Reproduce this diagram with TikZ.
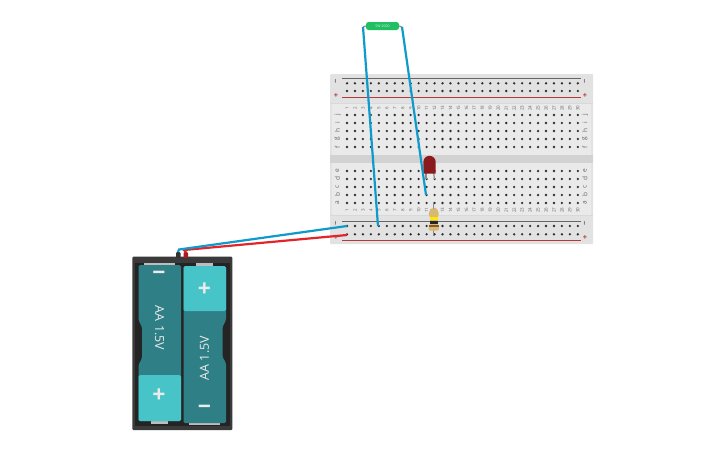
\documentclass[tikz,border=0pt]{standalone}
\usepackage{fontspec}
\setmainfont{Open Sans}
\definecolor{boardgray}{HTML}{E2E2E2}
\definecolor{boardlight}{HTML}{EAEAEA}
\definecolor{channelgray}{HTML}{D2D2D2}
\definecolor{holegray}{HTML}{2E2E2E}
\definecolor{railred}{HTML}{B5383C}
\definecolor{wireblue}{HTML}{0E9BCB}
\definecolor{wirered}{HTML}{E0262A}
\definecolor{cellteal}{HTML}{2F7F86}
\definecolor{celllight}{HTML}{47C4C8}
\definecolor{holderdark}{HTML}{3A3A3A}
\definecolor{holderinner}{HTML}{242424}
\definecolor{tabsilver}{HTML}{BDBDBD}
\definecolor{ledred}{HTML}{8A1A1E}
\definecolor{bodytan}{HTML}{D9B872}
\definecolor{switchgreen}{HTML}{1FBF62}
\tikzset{
    hole/.style={circle, fill=holegray, inner sep=0pt, minimum size=2.6pt},
    boardtext/.style={text=black!60, inner sep=0pt, rotate=90, font=\fontsize{4.5}{5}\selectfont},
    rowtext/.style={boardtext, font=\fontsize{6.5}{7}\selectfont},
    signtext/.style={boardtext, font=\bfseries\fontsize{7.5}{8}\selectfont},
    celltext/.style={text=white!92!black, inner sep=0pt, font=\fontsize{12.5}{13}\selectfont},
    cellsign/.style={text=white!92!black, inner sep=0pt, font=\bfseries\fontsize{23}{23}\selectfont},
    jumper/.style={wireblue, line width=2.2pt},
    redwire/.style={wirered, line width=2.2pt},
    leg/.style={black!45, line width=1.2pt},
}
\begin{document}
\begin{tikzpicture}[x=1pt, y=-1pt]
    \useasboundingbox[fill=white] (0, 0) rectangle (725, 453);
    % breadboard
    \fill[boardgray, rounded corners=1pt] (330, 74) rectangle (593, 244);
    \fill[boardlight] (332, 104) rectangle (591, 155);
    \fill[boardlight] (332, 163) rectangle (591, 215);
    \fill[channelgray] (330, 155) rectangle (593, 163);
    \draw[black!15, line width=0.5pt] (330, 103.5) -- (593, 103.5);
    \draw[black!15, line width=0.5pt] (330, 215.5) -- (593, 215.5);
    \draw[black!60, line width=1pt] (342, 78) -- (581, 78);
    \draw[railred, line width=1pt] (342, 97) -- (581, 97);
    \draw[black!60, line width=1pt] (342, 221) -- (581, 221);
    \draw[railred, line width=1pt] (342, 240.5) -- (581, 240.5);
    \foreach \row in {83.3, 91, 115, 123, 131, 139, 147, 171, 179, 187, 195, 203, 226, 234.3} {
        \foreach \col in {0, ..., 29} {
            \node[hole] at (347 + 7.96*\col, \row) {};
        }
    }
    \foreach \col [evaluate=\col as \colx using 347 + 7.96*(\col - 1)] in {1, ..., 30} {
        \node[boardtext] at (\colx, 108) {\col};
        \node[boardtext] at (\colx, 210) {\col};
    }
    \foreach \rowname/\row in {j/115, i/123, h/131, g/139, f/147, e/171, d/179, c/187, b/195, a/203} {
        \node[rowtext] at (337.5, \row) {\rowname};
        \node[rowtext] at (585, \row) {\rowname};
    }
    \foreach \signx in {336.5, 585.5} {
        \node[signtext] at (\signx, 81) {−};
        \node[signtext, text=railred] at (\signx, 95.5) {+};
        \node[signtext] at (\signx, 223) {−};
        \node[signtext, text=railred] at (\signx, 237) {+};
    }
    % battery holder
    \fill[holderdark, rounded corners=1pt] (132.3, 256.7) rectangle (232.3, 430);
    \fill[holderinner] (135, 263) rectangle (229.5, 426);
    \fill[tabsilver] (144, 263) rectangle (175, 266);
    \fill[tabsilver] (196, 263) rectangle (213, 267);
    \fill[tabsilver] (151, 420) rectangle (168, 424);
    \fill[tabsilver] (189, 422) rectangle (220, 425);
    \fill[cellteal, rounded corners=1.5pt] (138.5, 265) -- (181, 265) -- (181, 421) -- (138.5, 421)
        -- (138.5, 365) -- (142, 358) -- (142, 327) -- (138.5, 320) -- cycle;
    \fill[celllight, rounded corners=1.5pt] (138.5, 375) -- (181, 375) -- (181, 421) -- (138.5, 421) -- cycle;
    \fill[cellteal, rounded corners=1.5pt] (183.5, 266) -- (226, 266) -- (226, 320) -- (222.5, 327)
        -- (222.5, 357) -- (226, 363) -- (226, 423) -- (183.5, 423) -- cycle;
    \fill[celllight, rounded corners=1.5pt] (183.5, 266) -- (226, 266) -- (226, 311) -- (183.5, 311) -- cycle;
    \node[celltext, rotate=-90] (leftlabel) at (159.5, 328) {AA 1.5V};
    \node[celltext, rotate=90] (rightlabel) at (204.5, 358) {AA 1.5V};
    \node[cellsign] (leftminus) at (159, 276) {−};
    \node[cellsign] (leftplus) at (159, 396) {+};
    \node[cellsign] (rightplus) at (204.5, 290) {+};
    \node[cellsign] (rightminus) at (204.5, 410) {−};
    % battery posts
    \fill[black!80, rounded corners=1pt] (176, 258) -- (176, 252) -- (180.5, 252) -- (180.5, 258) -- cycle;
    \fill[wirered!75!black, rounded corners=1pt] (183.5, 258) -- (183.5, 252) -- (188, 252) -- (188, 258) -- cycle;
    % led
    \coordinate (ledleft) at (426, 172);
    \coordinate (ledleftend) at (426, 179);
    \coordinate (ledright) at (433.5, 172);
    \coordinate (ledrightend) at (434.5, 179);
    \draw[leg] (ledleft) -- (ledleftend);
    \draw[leg] (ledright) -- (ledrightend);
    \fill[ledred] (423.3, 172) -- (423.3, 162) arc[start angle=180, end angle=360, radius=6.2] -- (435.7, 172)
        -- (435.7, 173.5) -- (423.3, 173.5) -- cycle;
    % resistor
    \coordinate (restop) at (433.7, 202);
    \coordinate (resbottom) at (433.7, 236);
    \draw[leg] (restop) -- (resbottom);
    \fill[bodytan, rounded corners=1pt] (430.5, 208.5) -- (437, 208.5) -- (439, 214) -- (437.5, 217) -- (437.5, 225)
        -- (439, 226.5) -- (438.7, 230.5) -- (428.7, 230.5) -- (428.5, 226.5) -- (430, 225) -- (430, 217) -- (428.5, 214) -- cycle;
    \fill[yellow!90!orange] (430, 216.5) rectangle (437.5, 219.5);
    \fill[black!85] (430, 220.5) rectangle (437.5, 223.5);
    \fill[brown!70!black] (428.7, 224.5) rectangle (438.8, 227);
    % switch
    \coordinate (swleft) at (363, 27);
    \coordinate (swright) at (402, 27);
    \node[fill=switchgreen, rounded corners=2.5pt, minimum width=33pt, minimum height=8pt, inner sep=0pt,
        text=white!85!switchgreen, font=\fontsize{3.5}{4}\selectfont] (switch) at (382.5, 26) {SW 2000};
    \draw[leg] (swleft) -- (switch.west);
    \draw[leg] (swright) -- (switch.east);
    % wires
    \coordinate (railblue) at (378, 226);
    \coordinate (rowblue) at (426, 195);
    \coordinate (railneg) at (347, 226);
    \coordinate (railpos) at (347, 235);
    \coordinate (postblack) at (178, 252);
    \coordinate (postred) at (186, 252);
    \draw[jumper] (swleft) -- (railblue);
    \draw[jumper] (swright) -- (rowblue);
    \draw[redwire] (postred) -- (184, 250) -- (railpos);
    \draw[jumper] (postblack) -- (179, 249.5) -- (railneg);
\end{tikzpicture}
\end{document}
